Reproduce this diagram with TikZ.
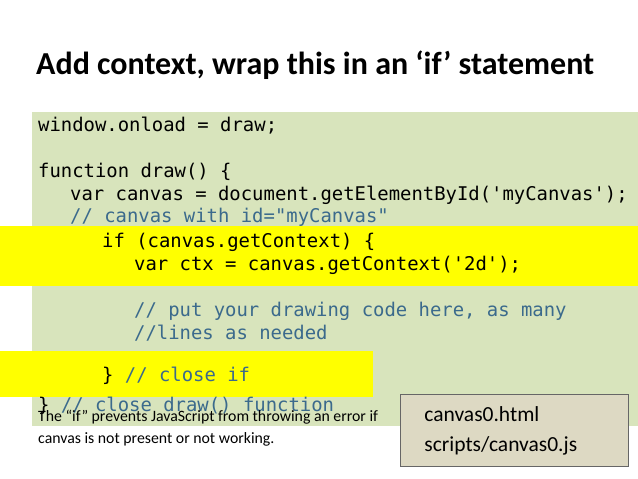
\documentclass[tikz,border=0pt]{standalone}
\usepackage{fontspec}
\setmainfont{Carlito}
\newfontfamily\codefont{DejaVu Sans Mono}
\definecolor{panel}{HTML}{D8E4BC}
\definecolor{hl}{HTML}{FFFF00}
\definecolor{cmt}{HTML}{3B6A8C}
\definecolor{filebox}{HTML}{DDD9C3}
\tikzset{
  code/.style={anchor=base west, inner sep=0pt, font=\codefont\fontsize{18.9}{20}\selectfont, text=black},
  comment/.style={code, text=cmt},
}
\begin{document}
\begin{tikzpicture}[x=1pt,y=-1pt]
\useasboundingbox (0,0) rectangle (638,479);
\fill[white] (0,0) rectangle (638,479);
\node[anchor=base west, inner sep=0pt, font=\bfseries\fontsize{32}{36}\selectfont] (title) at (36,74) {Add context, wrap this in an ‘if’ statement};
\fill[panel] (32,112) rectangle (638,426);
\fill[hl] (0,226) rectangle (638,286);
\fill[hl] (0,351) rectangle (373,397);
\node[code] (l1) at (38,131) {window.onload = draw;};
\node[code] (l2) at (38,177) {function draw() \{};
\node[code] (l3) at (70,200) {var canvas = document.getElementById('myCanvas');};
\node[comment] (l4) at (70,222) {// canvas with id="myCanvas"};
\node[code] (l5) at (102,247) {if (canvas.getContext) \{};
\node[code] (l6) at (134,270) {var ctx = canvas.getContext('2d');};
\node[comment] (l7) at (134,316) {// put your drawing code here, as many};
\node[comment] (l8) at (134,339) {//lines as needed};
\node[code] (l9) at (102,381) {\} \textcolor{cmt}{// close if}};
\node[code] (l10) at (38,411) {\} \textcolor{cmt}{// close draw() function}};
\node[draw=gray!80!black, fill=filebox, line width=0.8pt, minimum width=207, minimum height=72, anchor=north west, align=left, font=\fontsize{21.5}{30}\selectfont, text width=180, inner xsep=24] (files) at (400,394) {canvas0.html\\scripts/canvas0.js};
\node[anchor=base west, align=left, inner sep=0pt, font=\fontsize{15.8}{22}\selectfont] (note) at (38,443) {The “if” prevents JavaScript from throwing an error if\\canvas is not present or not working.};
\end{tikzpicture}
\end{document}
